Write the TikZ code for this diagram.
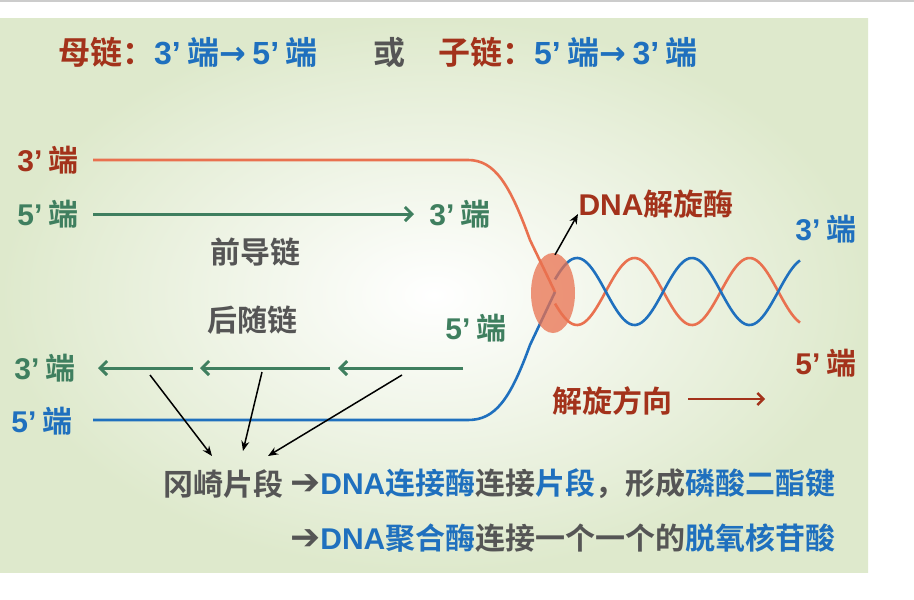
\documentclass[tikz,border=0pt]{standalone}
\usepackage{fontspec}
\setmainfont{Noto Sans CJK SC Bold}
\newfontfamily\djv{DejaVu Sans}
\newfontfamily\lat{Liberation Sans}
\newcommand{\pr}[1]{{\lat\bfseries #1’}\hspace{0.2em}}
\newcommand{\harr}{{\djv\bfseries\fontsize{36}{36}\selectfont ➔}}
\usetikzlibrary{arrows.meta,shapes.geometric}
\definecolor{rb}{HTML}{A3321B}
\definecolor{bl}{HTML}{1F70BE}
\definecolor{orl}{HTML}{E9714F}
\definecolor{gr}{HTML}{3F7F5F}
\definecolor{gy}{HTML}{555555}
\definecolor{bgg}{HTML}{DEE9CC}
\tikzset{
  lbl/.style={inner sep=0pt, font=\fontsize{30}{30}\selectfont},
  big/.style={inner sep=0pt, font=\fontsize{32}{32}\selectfont},
  strand/.style={line width=2.6pt},
  blk/.style={-{Stealth[length=10pt,width=8pt]}, line width=1.5pt, black},
  grn/.style={gr, line width=3pt, -{Straight Barb[length=7pt,width=14pt]}}
}
\begin{document}
\begin{tikzpicture}[x=1pt,y=-1pt]
\useasboundingbox (0,0) rectangle (914,600);
\fill[white] (0,0) rectangle (914,600);
\draw[gray!40, line width=1.5pt] (0,1) -- (914,1);
\shade[inner color=white, outer color=bgg] (0,18) rectangle (868,572);
% title
\node[big, anchor=west] (t1) at (58,52) {\textcolor{rb}{母链：}\textcolor{bl}{\pr{3}端{\djv\bfseries→}\hspace{0.2em}\pr{5}端}};
\node[big, anchor=west, gy] (t2) at (373,52) {或};
\node[big, anchor=west] (t3) at (438,52) {\textcolor{rb}{子链：}\textcolor{bl}{\pr{5}端{\djv\bfseries→}\hspace{0.2em}\pr{3}端}};
% end labels
\node[lbl, rb] (o3) at (48,160) {\pr{3}端};
\node[lbl, gr] (g5) at (48,214) {\pr{5}端};
\node[lbl, gr] (g3r) at (460,214) {\pr{3}端};
\node[lbl, gy] (lead) at (255,252) {前导链};
\node[lbl, gy] (lag) at (252,320) {后随链};
\node[lbl, gr] (g5r) at (476,328) {\pr{5}端};
\node[lbl, gr] (g3) at (45,368) {\pr{3}端};
\node[lbl, bl] (b5) at (42,421) {\pr{5}端};
\node[lbl, bl] (b3r) at (826,229) {\pr{3}端};
\node[lbl, rb] (o5r) at (826,363) {\pr{5}端};
\node[lbl, rb] (heli) at (656,204) {{\lat\bfseries DNA}解旋酶};
\node[lbl, rb] (dir) at (612,401) {解旋方向};
\coordinate (dirA) at (688,399);
\coordinate (dirB) at (765,399);
\draw[rb, line width=2.4pt, -{Straight Barb[length=6pt,width=12pt]}] (dirA) -- (dirB);
% parental strands
\coordinate (oS) at (93,160);
\coordinate (bS) at (93,420);
\coordinate (fork) at (555,292);
\draw[strand, orl] (oS) -- (468,160) .. controls (495,160) and (510,185) .. (530,240) -- (fork);
\draw[strand, bl] (bS) -- (468,420) .. controls (495,420) and (510,400) .. (530,345) -- (fork);
% helix
\draw[strand, orl, domain=555:800, samples=120] plot (\x, {291.5+33.5*cos(3.1304*(\x-577))});
\draw[strand, bl, domain=555:800, samples=120] plot (\x, {291.5-33.5*cos(3.1304*(\x-577))});
% helicase
\node[ellipse, fill=orl, fill opacity=0.75, minimum width=44pt, minimum height=80pt, inner sep=0pt] (hel) at (553,293) {};
\draw[blk] (hel.north) ++(2,2) coordinate (hA) -- (578,214);
% leading strand
\coordinate (ldA) at (93,214);
\coordinate (ldB) at (414,214);
\draw[grn] (ldA) -- (ldB);
% lagging fragments
\coordinate (f1a) at (463,368); \coordinate (f1b) at (338,368);
\coordinate (f2a) at (330,368); \coordinate (f2b) at (200,368);
\coordinate (f3a) at (193,368); \coordinate (f3b) at (98,368);
\draw[grn] (f1a) -- (f1b);
\draw[grn] (f2a) -- (f2b);
\draw[grn] (f3a) -- (f3b);
% okazaki
\node[lbl, anchor=west, gy] (ok) at (163,484) {冈崎片段};
\coordinate (k1) at (150,375); \coordinate (k2) at (262,372); \coordinate (k3) at (402,375);
\draw[blk] (k1) -- (212,456);
\draw[blk] (k2) -- (243,451);
\draw[blk] (k3) -- (268,456);
\node[lbl, anchor=west] (l1) at (290,484) {\textcolor{gy}{\harr}\textcolor{bl}{{\lat\bfseries DNA}连接酶}\textcolor{gy}{连接}\textcolor{bl}{片段}\textcolor{gy}{，形成}\textcolor{bl}{磷酸二酯键}};
\node[lbl, anchor=west] (l2) at (290,538) {\textcolor{gy}{\harr}\textcolor{bl}{{\lat\bfseries DNA}聚合酶}\textcolor{gy}{连接一个一个的}\textcolor{bl}{脱氧核苷酸}};
\end{tikzpicture}
\end{document}
